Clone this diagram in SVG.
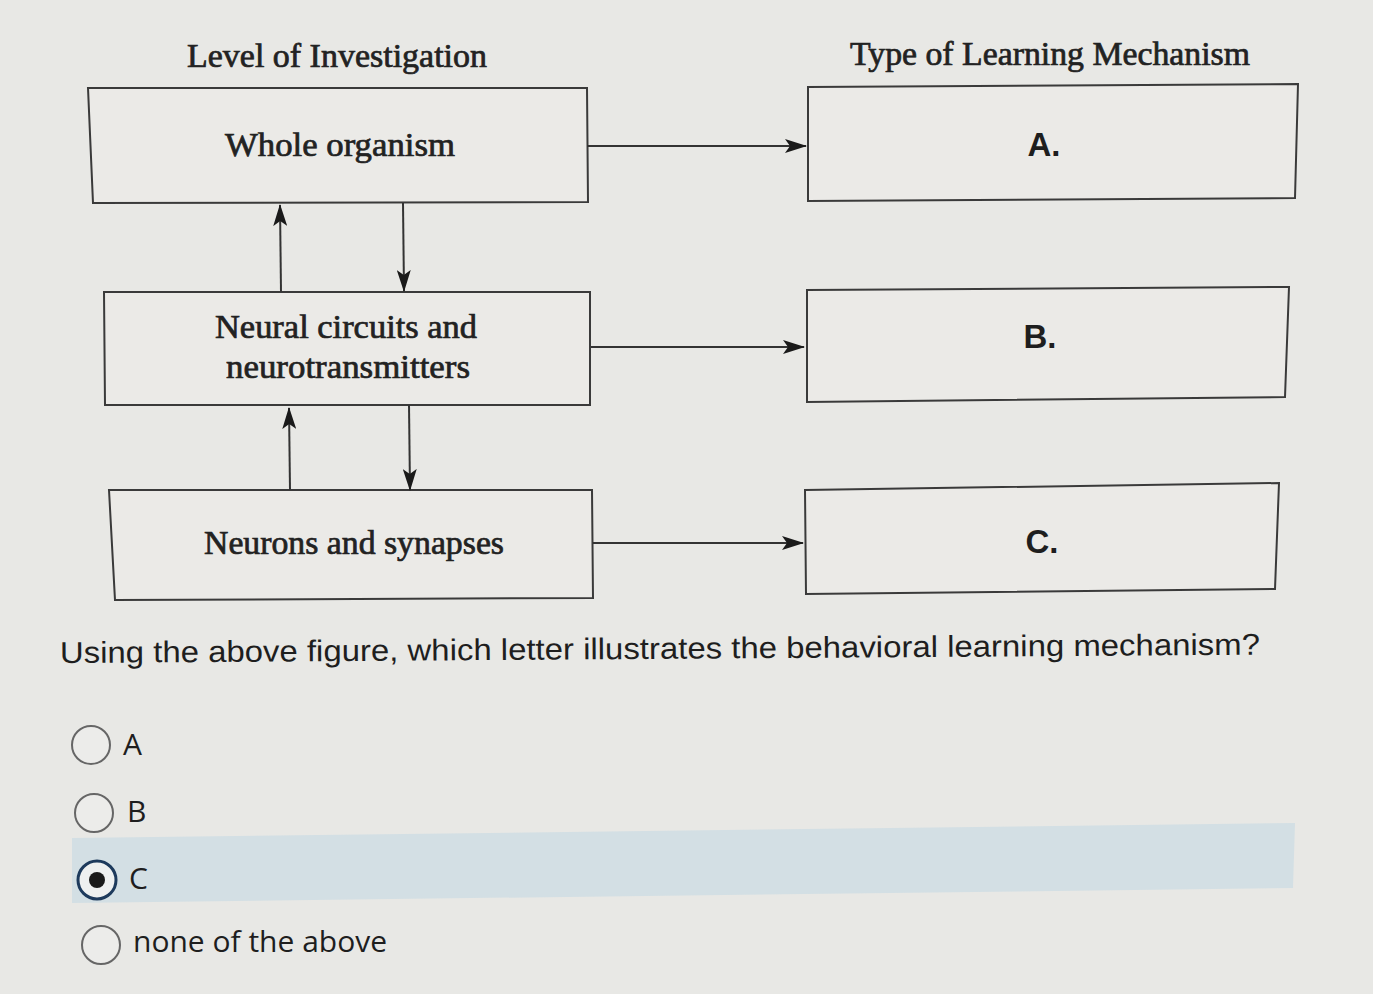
<svg xmlns="http://www.w3.org/2000/svg" width="1373" height="994" viewBox="0 0 1373 994">
<style>
.bg{fill:#e8e8e5}
.box{fill:#ebeae7;stroke:#3a3a3a;stroke-width:2}
.ser{font-family:"Liberation Serif","DejaVu Serif",serif;fill:#222;stroke:#222;stroke-width:0.7;font-size:33px;text-anchor:middle}
.let{font-family:"Liberation Sans",Arial,sans-serif;font-weight:bold;fill:#1e1e1e;font-size:33px;text-anchor:middle}
.q{font-family:"Liberation Sans",Arial,sans-serif;fill:#1e1e1e;font-size:30px}
.o{font-family:"Open Sans","Liberation Sans",sans-serif;fill:#1e1e1e;font-size:30px}
.con{stroke:#333;stroke-width:2;fill:none;marker-end:url(#ah)}
.rad{fill:#ececea;stroke:#666;stroke-width:2}
</style>
<defs>
<marker id="ah" markerWidth="22" markerHeight="14" refX="21" refY="7" orient="auto" markerUnits="userSpaceOnUse">
<path d="M0,0 L22,7 L0,14 L5,7 Z" fill="#1a1a1a"/>
</marker>
</defs>
<rect class="bg" width="1373" height="994"/>
<g id="headers">
<text class="ser" x="337" y="67" textLength="300" lengthAdjust="spacingAndGlyphs">Level of Investigation</text>
<text class="ser" x="1050" y="65" textLength="400" lengthAdjust="spacingAndGlyphs">Type of Learning Mechanism</text>
</g>
<g id="whole">
<path class="box" d="M88,88 L587,88 L588,202 L93,203 Z"/>
<text class="ser" x="340" y="156" textLength="230" lengthAdjust="spacingAndGlyphs">Whole organism</text>
</g>
<g id="neural">
<path class="box" d="M104,292 L590,292 L590,405 L105,405 Z"/>
<text class="ser" x="346" y="338" textLength="262" lengthAdjust="spacingAndGlyphs">Neural circuits and</text>
<text class="ser" x="348" y="378" textLength="244" lengthAdjust="spacingAndGlyphs">neurotransmitters</text>
</g>
<g id="neurons">
<path class="box" d="M109,490 L592,490 L593,598 L115,600 Z"/>
<text class="ser" x="354" y="554" textLength="300" lengthAdjust="spacingAndGlyphs">Neurons and synapses</text>
</g>
<g id="boxA">
<path class="box" d="M808,87 L1298,84 L1295,198 L808,201 Z"/>
<text class="let" x="1044" y="156">A.</text>
</g>
<g id="boxB">
<path class="box" d="M807,290 L1289,287 L1285,397 L807,402 Z"/>
<text class="let" x="1040" y="348">B.</text>
</g>
<g id="boxC">
<path class="box" d="M805,490 L1279,483 L1275,589 L806,594 Z"/>
<text class="let" x="1042" y="553">C.</text>
</g>
<g id="connectors">
<line class="con" x1="587" y1="146" x2="806" y2="146"/>
<line class="con" x1="591" y1="347" x2="804" y2="347"/>
<line class="con" x1="593" y1="543" x2="803" y2="543"/>
<line class="con" x1="281" y1="292" x2="280" y2="205"/>
<line class="con" x1="403" y1="203" x2="404" y2="291"/>
<line class="con" x1="290" y1="490" x2="289" y2="408"/>
<line class="con" x1="409" y1="405" x2="410" y2="490"/>
</g>
<g id="question">
<text class="q" x="60" y="663" textLength="1200" lengthAdjust="spacingAndGlyphs" transform="rotate(-0.4 60 663)">Using the above figure, which letter illustrates the behavioral learning mechanism?</text>
</g>
<g id="options">
<path d="M72,838 L1295,823 L1293,888 L72,903 Z" fill="#d3dfe4"/>
<circle class="rad" cx="91" cy="745" r="19"/>
<text class="o" x="123" y="755">A</text>
<circle class="rad" cx="94" cy="813" r="19"/>
<text class="o" x="127" y="822">B</text>
<circle cx="97" cy="880" r="19" fill="#eef0f0" stroke="#1d3a5c" stroke-width="3"/>
<circle cx="97" cy="880" r="8" fill="#1a1a1a"/>
<text class="o" x="129" y="889">C</text>
<circle class="rad" cx="101" cy="945" r="19"/>
<text class="o" x="133" y="952">none of the above</text>
</g>
</svg>
